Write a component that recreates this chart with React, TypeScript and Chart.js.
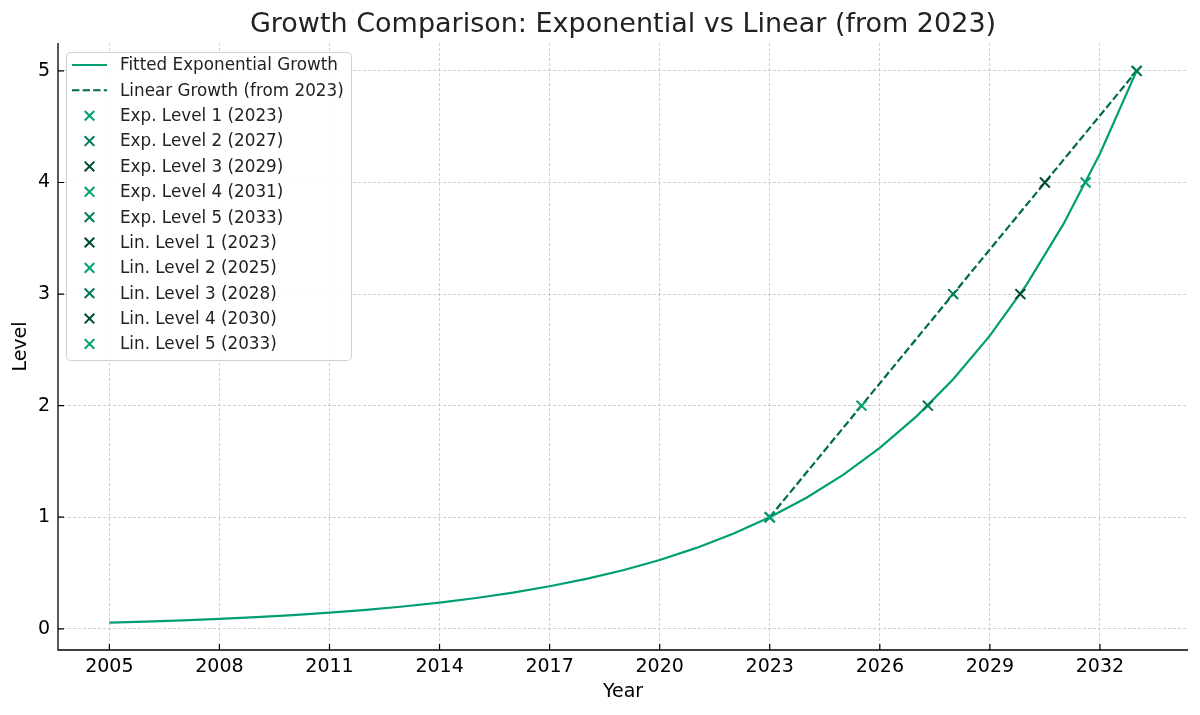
import { useEffect, useRef } from "react"
import { Chart, registerables } from "chart.js"

Chart.register(...registerables)

// fitted exponential curve, one point per year
const expYears = [
  2005, 2006, 2007, 2008, 2009, 2010, 2011, 2012, 2013, 2014, 2015, 2016, 2017, 2018, 2019,
  2020, 2021, 2022, 2023, 2024, 2025, 2026, 2027, 2028, 2029, 2030, 2031, 2032, 2033,
]
const expLevels = [
  0.055, 0.065, 0.076, 0.089, 0.105, 0.123, 0.145, 0.17, 0.2, 0.235, 0.276, 0.324, 0.381, 0.447,
  0.525, 0.617, 0.725, 0.851, 1.0, 1.175, 1.38, 1.621, 1.904, 2.236, 2.627, 3.085, 3.624, 4.257, 5.0,
]

// linear growth line from 2023
const linYears = [2023, 2033]
const linLevels = [1, 5]

// level markers
const expMarkerYears = [2023, 2027.31, 2029.83, 2031.61, 2033]
const expMarkerLevels = [1, 2, 3, 4, 5]
const expMarkerLabels = [
  "Exp. Level 1 (2023)",
  "Exp. Level 2 (2027)",
  "Exp. Level 3 (2029)",
  "Exp. Level 4 (2031)",
  "Exp. Level 5 (2033)",
]
const linMarkerYears = [2023, 2025.5, 2028, 2030.5, 2033]
const linMarkerLevels = [1, 2, 3, 4, 5]
const linMarkerLabels = [
  "Lin. Level 1 (2023)",
  "Lin. Level 2 (2025)",
  "Lin. Level 3 (2028)",
  "Lin. Level 4 (2030)",
  "Lin. Level 5 (2033)",
]

const xTicks = [2005, 2008, 2011, 2014, 2017, 2020, 2023, 2026, 2029, 2032]
const yTicks = [0, 1, 2, 3, 4, 5]

const EXP_COLOR = "#009e73"
const LIN_COLOR = "#00694d"
const markerColors = ["#009e73", "#007a59", "#004a35"]
const FONT = "'DejaVu Sans', sans-serif"
const GRID_COLOR = "rgba(176, 176, 176, 0.75)"

// spines, inward ticks and the framed legend in the upper left corner
const decorations = {
  id: "decorations",
  afterDatasetsDraw(chart: any) {
    const { ctx, chartArea, scales } = chart
    const { left, right, top, bottom } = chartArea
    ctx.save()
    ctx.strokeStyle = "#000"
    ctx.lineWidth = 1.3
    ctx.beginPath()
    ctx.moveTo(left, top)
    ctx.lineTo(left, bottom)
    ctx.lineTo(right, bottom)
    ctx.stroke()

    ctx.lineWidth = 1.2
    ctx.beginPath()
    xTicks.forEach((v) => {
      const px = scales.x.getPixelForValue(v)
      ctx.moveTo(px, bottom)
      ctx.lineTo(px, bottom - 6)
    })
    yTicks.forEach((v) => {
      const py = scales.y.getPixelForValue(v)
      ctx.moveTo(left, py)
      ctx.lineTo(left + 6, py)
    })
    ctx.stroke()

    // legend
    const items = chart.data.datasets
    const boxX = 66.5
    const boxY = 52.5
    const boxW = 285
    const boxH = 308
    const r = 4
    ctx.beginPath()
    ctx.moveTo(boxX + r, boxY)
    ctx.arcTo(boxX + boxW, boxY, boxX + boxW, boxY + boxH, r)
    ctx.arcTo(boxX + boxW, boxY + boxH, boxX, boxY + boxH, r)
    ctx.arcTo(boxX, boxY + boxH, boxX, boxY, r)
    ctx.arcTo(boxX, boxY, boxX + boxW, boxY, r)
    ctx.closePath()
    ctx.fillStyle = "rgba(255,255,255,0.95)"
    ctx.fill()
    ctx.strokeStyle = "#d0d0d0"
    ctx.lineWidth = 1
    ctx.stroke()

    ctx.font = `16.8px ${FONT}`
    ctx.textBaseline = "middle"
    ctx.textAlign = "left"
    items.forEach((ds: any, i: number) => {
      const cy = 65 + i * 25.36
      ctx.save()
      if (ds.showLine) {
        ctx.strokeStyle = ds.borderColor
        ctx.lineWidth = 2
        ctx.setLineDash(ds.borderDash || [])
        ctx.beginPath()
        ctx.moveTo(72, cy)
        ctx.lineTo(107, cy)
        ctx.stroke()
      } else {
        const s = 4.8
        ctx.strokeStyle = ds.borderColor
        ctx.lineWidth = 2
        ctx.beginPath()
        ctx.moveTo(89.5 - s, cy - s)
        ctx.lineTo(89.5 + s, cy + s)
        ctx.moveTo(89.5 + s, cy - s)
        ctx.lineTo(89.5 - s, cy + s)
        ctx.stroke()
      }
      ctx.restore()
      ctx.fillStyle = "#222"
      ctx.fillText(ds.label, 120, cy + 1)
    })
    ctx.restore()
  },
}

export default function App() {
  const chartRef = useRef<HTMLCanvasElement>(null)
  const chartInstance = useRef<Chart | null>(null)

  useEffect(() => {
    if (!chartRef.current) return
    if (chartInstance.current) {
      chartInstance.current.destroy()
    }

    const markerSets = [
      ...expMarkerLabels.map((label, i) => ({
        label,
        data: [{ x: expMarkerYears[i], y: expMarkerLevels[i] }],
      })),
      ...linMarkerLabels.map((label, i) => ({
        label,
        data: [{ x: linMarkerYears[i], y: linMarkerLevels[i] }],
      })),
    ].map((ds, i) => ({
      ...ds,
      pointStyle: "crossRot",
      pointRadius: 7,
      pointBorderWidth: 2,
      borderColor: markerColors[i % 3],
      backgroundColor: markerColors[i % 3],
      order: 0,
    }))

    const ctx = chartRef.current.getContext("2d")
    if (ctx) {
      chartInstance.current = new Chart(ctx, {
        type: "scatter",
        data: {
          datasets: [
            {
              label: "Fitted Exponential Growth",
              data: expYears.map((x, i) => ({ x, y: expLevels[i] })),
              showLine: true,
              borderColor: EXP_COLOR,
              backgroundColor: EXP_COLOR,
              borderWidth: 2.2,
              pointRadius: 0,
              tension: 0,
              order: 1,
            },
            {
              label: "Linear Growth (from 2023)",
              data: linYears.map((x, i) => ({ x, y: linLevels[i] })),
              showLine: true,
              borderColor: LIN_COLOR,
              backgroundColor: LIN_COLOR,
              borderWidth: 2.2,
              borderDash: [7.4, 3.2],
              pointRadius: 0,
              order: 1,
            },
            ...markerSets,
          ] as any,
        },
        options: {
          responsive: true,
          maintainAspectRatio: false,
          animation: false,
          layout: { padding: { left: 0, right: 12, top: 0, bottom: 0 } },
          scales: {
            x: {
              type: "linear",
              min: 2003.6,
              max: 2034.4,
              afterBuildTicks: (s: any) => {
                s.ticks = xTicks.map((value) => ({ value }))
              },
              afterFit: (s: any) => {
                s.height = 65
              },
              ticks: {
                font: { family: FONT, size: 19 },
                color: "#000",
                padding: 6,
                maxRotation: 0,
                callback: (v: any) => String(v),
              },
              grid: { color: GRID_COLOR, lineWidth: 0.8, drawTicks: false },
              border: { display: false, dash: [3, 2] },
              title: {
                display: true,
                text: "Year",
                font: { family: FONT, size: 19 },
                color: "#000",
                padding: { top: 0, bottom: 12 },
              },
            },
            y: {
              type: "linear",
              min: -0.19,
              max: 5.25,
              afterBuildTicks: (s: any) => {
                s.ticks = yTicks.map((value) => ({ value }))
              },
              afterFit: (s: any) => {
                s.width = 58
              },
              ticks: {
                font: { family: FONT, size: 19 },
                color: "#000",
                padding: 8,
                callback: (v: any) => String(v),
              },
              grid: { color: GRID_COLOR, lineWidth: 0.8, drawTicks: false },
              border: { display: false, dash: [3, 2] },
              title: {
                display: true,
                text: "Level",
                font: { family: FONT, size: 19 },
                color: "#000",
                padding: { top: 10, bottom: 0 },
              },
            },
          },
          plugins: {
            legend: { display: false },
            tooltip: { enabled: false },
            title: {
              display: true,
              fullSize: false,
              text: "Growth Comparison: Exponential vs Linear (from 2023)",
              font: { family: FONT, size: 27, weight: "normal" },
              color: "#222",
              padding: { top: 8.8, bottom: 1.8 },
            },
          },
        },
        plugins: [decorations],
      })
    }

    return () => {
      if (chartInstance.current) {
        chartInstance.current.destroy()
        chartInstance.current = null
      }
    }
  }, [])

  return (
    <div style={{ position: "absolute", left: 0, top: 0, width: 1200, height: 715, background: "#fff" }}>
      <canvas ref={chartRef} />
    </div>
  )
}
